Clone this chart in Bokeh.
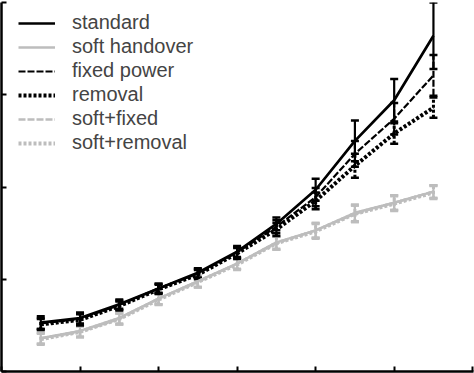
from bokeh.plotting import figure
from bokeh.models import (ColumnDataSource, Whisker, TeeHead, Legend, LegendItem,
                          FixedTicker, CustomJSTickFormatter)
from bokeh.embed import file_html
from bokeh.resources import INLINE

# ---- data ----
x = [5, 10, 15, 20, 25, 30, 35, 40, 45, 50, 55]
standard = [0.53, 0.58, 0.73, 0.90, 1.07, 1.30, 1.60, 1.97, 2.50, 2.94, 3.64]
standard_err = [0.07, 0.06, 0.05, 0.05, 0.05, 0.06, 0.07, 0.12, 0.22, 0.23, 0.36]
fixed_power = [0.52, 0.57, 0.72, 0.90, 1.06, 1.29, 1.57, 1.89, 2.36, 2.74, 3.21]
fixed_power_err = [0.06, 0.06, 0.05, 0.05, 0.05, 0.06, 0.07, 0.10, 0.14, 0.17, 0.22]
removal = [0.51, 0.56, 0.71, 0.89, 1.05, 1.28, 1.54, 1.85, 2.23, 2.58, 2.86]
removal_err = [0.06, 0.06, 0.05, 0.05, 0.05, 0.06, 0.07, 0.09, 0.13, 0.11, 0.11]
soft_handover = [0.36, 0.44, 0.58, 0.79, 0.98, 1.17, 1.40, 1.53, 1.72, 1.83, 1.95]
soft_handover_err = [0.06, 0.06, 0.06, 0.06, 0.06, 0.06, 0.07, 0.08, 0.09, 0.08, 0.07]
soft_fixed = [0.36, 0.43, 0.57, 0.79, 0.97, 1.17, 1.39, 1.53, 1.71, 1.83, 1.95]
soft_fixed_err = [0.06, 0.06, 0.06, 0.06, 0.06, 0.06, 0.07, 0.08, 0.09, 0.08, 0.07]
soft_removal = [0.35, 0.43, 0.57, 0.78, 0.97, 1.16, 1.39, 1.52, 1.71, 1.82, 1.94]
soft_removal_err = [0.06, 0.06, 0.06, 0.06, 0.06, 0.06, 0.07, 0.08, 0.09, 0.08, 0.07]
x_ticks = [0, 10, 20, 30, 40, 50, 60]
y_ticks = [0, 1, 2, 3, 4]

GRAY = "#bdbdbd"

p = figure(width=474, height=373, x_range=(0, 60.1), y_range=(0, 4.0),
           output_backend="svg", toolbar_location=None,
           min_border_left=1, min_border_right=1, min_border_top=2, min_border_bottom=2)
p.outline_line_color = None
p.xgrid.visible = False
p.ygrid.visible = False
blank = CustomJSTickFormatter(code="return ''")
for ax in (p.xaxis, p.yaxis):
    ax.formatter = blank
    ax.major_label_standoff = 0
    ax.major_tick_in = 5
    ax.major_tick_out = 0
    ax.minor_tick_line_color = None
    ax.axis_line_width = 2.5
    ax.major_tick_line_width = 2
    ax.axis_line_color = "black"
    ax.major_tick_line_color = "black"
p.xaxis.ticker = FixedTicker(ticks=x_ticks)
p.yaxis.ticker = FixedTicker(ticks=y_ticks)

series = [
    ("soft handover", soft_handover, soft_handover_err, GRAY, "solid", 2.5),
    ("soft+fixed", soft_fixed, soft_fixed_err, GRAY, "7 2", 2.5),
    ("soft+removal", soft_removal, soft_removal_err, GRAY, "3 2", 4),
    ("standard", standard, standard_err, "black", "solid", 2.7),
    ("fixed power", fixed_power, fixed_power_err, "black", "7 2", 2.2),
    ("removal", removal, removal_err, "black", "3 2", 4),
]
renderers = {}
for name, ys, err, color, dash, lw in series:
    src = ColumnDataSource(dict(x=x, y=ys,
                                lo=[a - b for a, b in zip(ys, err)],
                                hi=[a + b for a, b in zip(ys, err)]))
    w = Whisker(source=src, base="x", lower="lo", upper="hi",
                line_color=color, line_width=2.2 if dash != "3 2" else 3, line_dash=dash,
                upper_head=TeeHead(size=8, line_color=color, line_width=2.5),
                lower_head=TeeHead(size=8, line_color=color, line_width=2.5))
    p.add_layout(w)
    r = p.line("x", "y", source=src, line_color=color, line_width=lw, line_dash=dash)
    renderers[name] = r

order = ["standard", "soft handover", "fixed power", "removal", "soft+fixed", "soft+removal"]
legend = Legend(items=[LegendItem(label=n, renderers=[renderers[n]]) for n in order],
                location=(17, 217), padding=8, spacing=1, margin=0,
                glyph_width=37, glyph_height=20, label_height=20, label_standoff=17,
                label_text_font="Liberation Sans", label_text_font_size="20px",
                border_line_color=None, background_fill_alpha=0)
p.add_layout(legend, "center")

open("out.html", "w").write(file_html(p, INLINE))
